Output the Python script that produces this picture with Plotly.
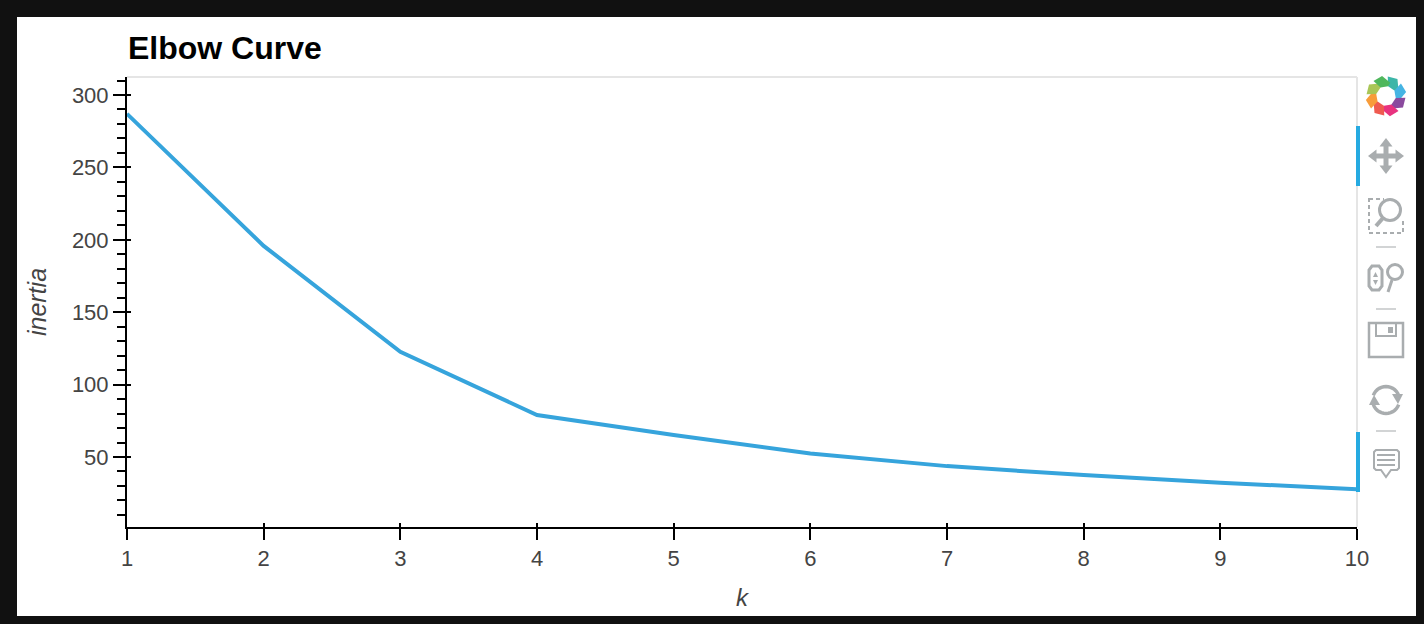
import math
import plotly.graph_objects as go

# ---- data ----
k = [1, 2, 3, 4, 5, 6, 7, 8, 9, 10]
inertia = [287.0, 195.8, 122.7, 79.0, 65.2, 52.4, 43.7, 37.5, 32.2, 27.8]
x_ticks = [1, 2, 3, 4, 5, 6, 7, 8, 9, 10]
y_ticks = [50, 100, 150, 200, 250, 300]
y_minor = [v for v in range(10, 320, 10) if v % 50 != 0]
title = "Elbow Curve"
x_title = "k"
y_title = "inertia"

W, H = 1424, 624
L, R, T, B = 127, 1357, 77, 527
px = lambda x: x / W
py = lambda y: 1 - y / H
ICON = "#a9adaf"
SEP = "#d2d4d5"
shapes = []


def rect(x0, y0, x1, y1, fill=None, line=None, lw=0, dash=None, layer="above"):
    shapes.append(dict(type="rect", xref="paper", yref="paper", x0=px(x0), x1=px(x1), y0=py(y0), y1=py(y1),
                       fillcolor=fill or "rgba(0,0,0,0)",
                       line=dict(color=line or "rgba(0,0,0,0)", width=lw, dash=dash or "solid"), layer=layer))


def seg(x0, y0, x1, y1, color=ICON, lw=3):
    shapes.append(dict(type="line", xref="paper", yref="paper", x0=px(x0), x1=px(x1), y0=py(y0), y1=py(y1),
                       line=dict(color=color, width=lw), layer="above"))


def circ(cx, cy, r, color=ICON, lw=3):
    shapes.append(dict(type="circle", xref="paper", yref="paper", x0=px(cx - r), x1=px(cx + r), y0=py(cy + r), y1=py(cy - r),
                       line=dict(color=color, width=lw), fillcolor="rgba(0,0,0,0)", layer="above"))


def poly(points, fill=None, line=None, lw=0, closed=True):
    d = "M " + " L ".join(f"{px(a):.5f},{py(b):.5f}" for a, b in points) + (" Z" if closed else "")
    shapes.append(dict(type="path", xref="paper", yref="paper", path=d,
                       fillcolor=fill or "rgba(0,0,0,0)",
                       line=dict(color=line or "rgba(0,0,0,0)", width=lw), layer="above"))


# white card on the dark frame
rect(17, 17, 1416, 616, fill="white", layer="below")
# plot outline (top / right)
shapes.append(dict(type="line", xref="paper", yref="paper", x0=px(L), x1=px(R), y0=py(T), y1=py(T),
                   line=dict(color="#e5e5e5", width=2), layer="below"))
shapes.append(dict(type="line", xref="paper", yref="paper", x0=px(R), x1=px(R), y0=py(T), y1=py(B),
                   line=dict(color="#e5e5e5", width=2), layer="below"))

# toolbar: logo
cx, cy = 1386, 96
colors = ["#3cb6a8", "#45b4e3", "#8a4a9e", "#e8327f", "#ef5a50", "#f89c3a", "#a9c657", "#4fb75c"]
for i, c in enumerate(colors):
    a0 = math.radians(-78 + i * 45)
    a1 = a0 + math.radians(45)
    am = a0 + math.radians(22)
    poly([(cx + 10 * math.cos(a0), cy + 10 * math.sin(a0)),
          (cx + 19.5 * math.cos(a0 - 0.12), cy + 19.5 * math.sin(a0 - 0.12)),
          (cx + 20.5 * math.cos(am), cy + 20.5 * math.sin(am)),
          (cx + 14 * math.cos(a1 + 0.1), cy + 14 * math.sin(a1 + 0.1)),
          (cx + 10 * math.cos(a1), cy + 10 * math.sin(a1))], fill=c)

# active-tool markers
rect(1356, 126, 1360, 186, fill="#26aae1")
rect(1356, 432, 1360, 492, fill="#26aae1")

# pan
cx, cy = 1386, 156
rect(cx - 11, cy - 2.5, cx + 11, cy + 2.5, fill=ICON)
rect(cx - 2.5, cy - 11, cx + 2.5, cy + 11, fill=ICON)
for sx, sy in [(1, 0), (-1, 0), (0, 1), (0, -1)]:
    nx, ny = -sy, sx
    poly([(cx + 18 * sx, cy + 18 * sy),
          (cx + 9.5 * sx + 6.5 * nx, cy + 9.5 * sy + 6.5 * ny),
          (cx + 9.5 * sx - 6.5 * nx, cy + 9.5 * sy - 6.5 * ny)], fill=ICON)

# box zoom
rect(1369, 199, 1403, 233, line=ICON, lw=2, dash="4px,3px")
rect(1384, 196, 1405, 218, fill="white")
circ(1390, 210, 10.5)
seg(1383, 218, 1376, 226, lw=4)
seg(1376, 247, 1396, 247, color=SEP, lw=2)

# wheel zoom
poly([(1372, 266), (1379, 266), (1382, 270), (1382, 286), (1379, 290), (1372, 290), (1369, 286), (1369, 270)],
     line=ICON, lw=3)
poly([(1375.5, 272), (1378, 277), (1373, 277)], fill=ICON)
poly([(1375.5, 285), (1378, 280), (1373, 280)], fill=ICON)
circ(1395, 272, 7.5)
seg(1392, 280, 1388, 292, lw=3)
seg(1376, 309, 1396, 309, color=SEP, lw=2)

# save
rect(1369, 323, 1403, 357, line=ICON, lw=2.5)
poly([(1376, 323), (1376, 336), (1396, 336), (1396, 323)], line=ICON, lw=2, closed=False)
rect(1388, 327, 1393, 333, fill=ICON)

# reset
cx, cy = 1386, 400
arc1 = [(cx + 13.5 * math.cos(math.radians(a)), cy + 13.5 * math.sin(math.radians(a))) for a in range(-160, -10, 10)]
arc2 = [(cx + 13.5 * math.cos(math.radians(a)), cy + 13.5 * math.sin(math.radians(a))) for a in range(20, 170, 10)]
poly(arc1, line=ICON, lw=3.5, closed=False)
poly(arc2, line=ICON, lw=3.5, closed=False)
poly([(1403, 394), (1392, 394), (1398, 404)], fill=ICON)
poly([(1369, 405), (1380, 405), (1374, 395)], fill=ICON)
seg(1376, 431, 1396, 431, color=SEP, lw=2)

# hover
poly([(1376, 450), (1397, 450), (1399, 452), (1399, 468), (1397, 470), (1391, 470), (1386, 477),
      (1381, 470), (1376, 470), (1374, 468), (1374, 452)], line=ICON, lw=2)
for yy in (455, 460, 465):
    seg(1377, yy, 1395, yy, lw=2)

fig = go.Figure()
fig.add_trace(go.Scatter(x=k, y=inertia, mode="lines", line=dict(color="#36a4dc", width=4), hoverinfo="skip",
                         showlegend=False, cliponaxis=True))
# invisible trace bound to the overlay axes that carry the inner tick stubs
fig.add_trace(go.Scatter(x=k, y=inertia, xaxis="x2", yaxis="y2", mode="lines", line=dict(width=0), opacity=0,
                         hoverinfo="skip", showlegend=False))

y_range = [50 - (B - 457) / 1.448, 300 + (457 - 362 - T) / 1.448]
font = "Liberation Sans, Helvetica, Arial, sans-serif"
fig.update_layout(
    template="none",
    width=W, height=H, autosize=False,
    margin=dict(l=0, r=0, t=0, b=0, pad=0),
    paper_bgcolor="#111111", plot_bgcolor="rgba(0,0,0,0)",
    shapes=shapes,
    showlegend=False,
    title=dict(text=f"<b>{title}</b>", x=128 / W, xref="paper", xanchor="left", y=py(48), yref="paper",
               yanchor="middle", font=dict(family=font, size=32, color="#000000")),
    font=dict(family=font, size=22, color="#444444"),
    xaxis=dict(domain=[px(L), px(R)], range=[1, 10], tickvals=x_ticks, ticks="outside", ticklen=11, tickwidth=2,
               tickcolor="black", showline=True, linecolor="black", linewidth=2, showgrid=False, zeroline=False,
               anchor="y", automargin=False, tickfont=dict(size=22, color="#444444"),
               title=dict(text=f"<i>{x_title}</i>", standoff=19, font=dict(size=24, color="#444444"))),
    yaxis=dict(domain=[py(B), py(T)], range=y_range, tickvals=y_ticks, ticks="outside", ticklen=12, tickwidth=2,
               tickcolor="black", showline=True, linecolor="black", linewidth=2, showgrid=False, zeroline=False,
               anchor="x", automargin=False, tickfont=dict(size=22, color="#444444"),
               minor=dict(tickvals=y_minor, ticks="outside", ticklen=8, tickwidth=2, tickcolor="black"),
               title=dict(text=f"<i>{y_title}</i>", standoff=18, font=dict(size=25, color="#444444"))),
    xaxis2=dict(domain=[px(L), px(R)], range=[1, 10], overlaying="x", anchor="y2", side="bottom", tickvals=x_ticks,
                ticks="inside", ticklen=4, tickwidth=2, tickcolor="black", showticklabels=False, showgrid=False,
                zeroline=False, showline=False, automargin=False),
    yaxis2=dict(domain=[py(B), py(T)], range=y_range, overlaying="y", anchor="x2", side="left", tickvals=y_ticks,
                ticks="inside", ticklen=4, tickwidth=2, tickcolor="black", showticklabels=False, showgrid=False,
                zeroline=False, showline=False, automargin=False),
)
fig.write_html("out.html", config={"displayModeBar": False},
               post_script="document.body.style.margin='0';document.documentElement.style.background='#111111';")
